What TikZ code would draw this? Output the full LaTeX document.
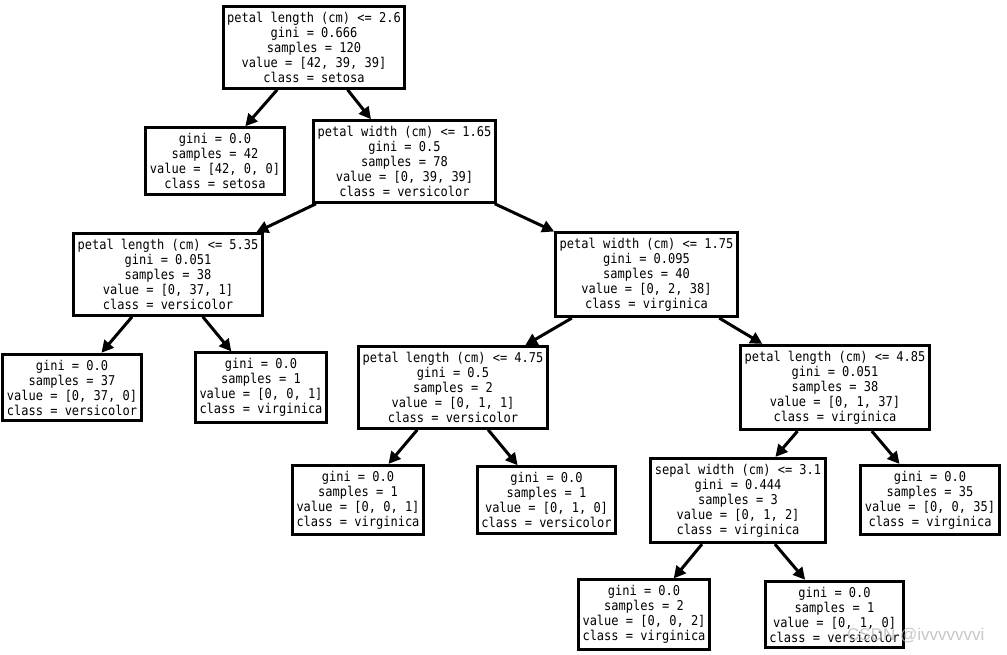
\documentclass[tikz,border=0pt]{standalone}
\usepackage{fontspec}
\newfontfamily\treefont[FakeStretch=0.89]{DejaVu Sans Mono}
\newfontfamily\wmfont{Liberation Sans}
\usetikzlibrary{arrows.meta}
\tikzset{
  tnode/.style={draw=black, fill=white, line width=3pt, align=center,
    inner xsep=4pt, inner ysep=5.5pt, font=\treefont\fontsize{13.5}{15}\selectfont},
  edge/.style={line width=3pt, -{Triangle[length=12pt,width=12pt]}}
}
\begin{document}
\begin{tikzpicture}[x=1pt,y=-1pt]
\useasboundingbox (0,0) rectangle (1007,654);
\node[tnode] (root) at (314,47.5) {petal length (cm) <= 2.6\\gini = 0.666\\samples = 120\\value = [42, 39, 39]\\class = setosa};
\node[tnode] (leaf42) at (215,161) {gini = 0.0\\samples = 42\\value = [42, 0, 0]\\class = setosa};
\node[tnode] (n165) at (404.5,161.5) {petal width (cm) <= 1.65\\gini = 0.5\\samples = 78\\value = [0, 39, 39]\\class = versicolor};
\node[tnode] (n535) at (168,274.5) {petal length (cm) <= 5.35\\gini = 0.051\\samples = 38\\value = [0, 37, 1]\\class = versicolor};
\node[tnode] (n175) at (646.5,274.5) {petal width (cm) <= 1.75\\gini = 0.095\\samples = 40\\value = [0, 2, 38]\\class = virginica};
\node[tnode] (leaf37) at (72,387.5) {gini = 0.0\\samples = 37\\value = [0, 37, 0]\\class = versicolor};
\node[tnode] (leaf1v) at (261,387.5) {gini = 0.0\\samples = 1\\value = [0, 0, 1]\\class = virginica};
\node[tnode] (n475) at (453,387.5) {petal length (cm) <= 4.75\\gini = 0.5\\samples = 2\\value = [0, 1, 1]\\class = versicolor};
\node[tnode] (n485) at (835,387.5) {petal length (cm) <= 4.85\\gini = 0.051\\samples = 38\\value = [0, 1, 37]\\class = virginica};
\node[tnode] (leaf001) at (358,500) {gini = 0.0\\samples = 1\\value = [0, 0, 1]\\class = virginica};
\node[tnode] (leaf010) at (546.5,500) {gini = 0.0\\samples = 1\\value = [0, 1, 0]\\class = versicolor};
\node[tnode] (n31) at (738,500.5) {sepal width (cm) <= 3.1\\gini = 0.444\\samples = 3\\value = [0, 1, 2]\\class = virginica};
\node[tnode] (leaf35) at (930,500) {gini = 0.0\\samples = 35\\value = [0, 0, 35]\\class = virginica};
\node[tnode] (leaf2) at (644,614.5) {gini = 0.0\\samples = 2\\value = [0, 0, 2]\\class = virginica};
\node[tnode] (leaf1vc) at (834.5,614.5) {gini = 0.0\\samples = 1\\value = [0, 1, 0]\\class = versicolor};
\draw[edge] (root) -- (leaf42);
\draw[edge] (root) -- (n165);
\draw[edge] (n165) -- (n535);
\draw[edge] (n165) -- (n175);
\draw[edge] (n535) -- (leaf37);
\draw[edge] (n535) -- (leaf1v);
\draw[edge] (n175) -- (n475);
\draw[edge] (n175) -- (n485);
\draw[edge] (n475) -- (leaf001);
\draw[edge] (n475) -- (leaf010);
\draw[edge] (n485) -- (n31);
\draw[edge] (n485) -- (leaf35);
\draw[edge] (n31) -- (leaf2);
\draw[edge] (n31) -- (leaf1vc);
\node[text=gray!55, opacity=0.8, font=\wmfont\fontsize{17}{17}\selectfont, anchor=west, inner sep=0pt] (wm) at (847,636) {CSDN @ivvvvvvvi};
\end{tikzpicture}
\end{document}
